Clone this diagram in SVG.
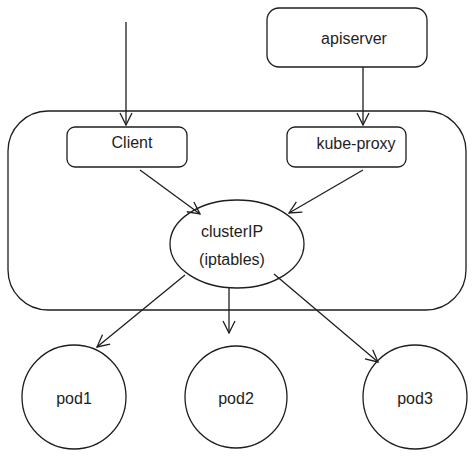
<svg xmlns="http://www.w3.org/2000/svg" width="474" height="459" viewBox="0 0 474 459">
<style>
.s{fill:none;stroke:#1e1e1e;stroke-width:1.3}
.n{fill:#fff;stroke:#1e1e1e;stroke-width:1.3}
text{font-family:"Comic Sans MS","Liberation Sans",sans-serif;font-size:16px;fill:#1e1e1e;text-anchor:middle;dominant-baseline:central}
</style>
<defs>
<marker id="ah" viewBox="0 0 14 14" refX="13" refY="7" markerWidth="14" markerHeight="14" markerUnits="userSpaceOnUse" orient="auto">
<path d="M1,1 L13,7 L1,13" fill="none" stroke="#1e1e1e" stroke-width="1.3"/>
</marker>
</defs>
<g id="cluster"><rect class="s" x="8" y="111" width="458" height="199" rx="40"/></g>
<g id="apiserver"><rect class="n" x="267" y="8" width="160" height="59" rx="12"/><text x="354" y="38">apiserver</text></g>
<g id="client"><rect class="n" x="67" y="127" width="120" height="40" rx="8"/><text x="132" y="142">Client</text></g>
<g id="kube-proxy"><rect class="n" x="287" y="127" width="119" height="40" rx="8"/><text x="356" y="143">kube-proxy</text></g>
<g id="clusterip"><ellipse class="n" cx="237" cy="244" rx="67" ry="44"/><text x="232" y="231">clusterIP</text><text x="232" y="259">(iptables)</text></g>
<g id="pod1"><circle class="n" cx="74" cy="397" r="52"/><text x="74" y="398">pod1</text></g>
<g id="pod2"><circle class="n" cx="236" cy="397" r="51"/><text x="236" y="398">pod2</text></g>
<g id="pod3"><circle class="n" cx="415" cy="397" r="52"/><text x="415" y="398">pod3</text></g>
<g id="connectors" class="s" marker-end="url(#ah)">
<line x1="126" y1="22" x2="126" y2="125"/>
<line x1="363" y1="67" x2="363" y2="125"/>
<line x1="140" y1="170" x2="200" y2="214"/>
<line x1="363" y1="170" x2="289" y2="213"/>
<line x1="185" y1="275" x2="97" y2="347"/>
<line x1="229" y1="288" x2="229" y2="333"/>
<line x1="274" y1="274" x2="378" y2="362"/>
</g>
</svg>
